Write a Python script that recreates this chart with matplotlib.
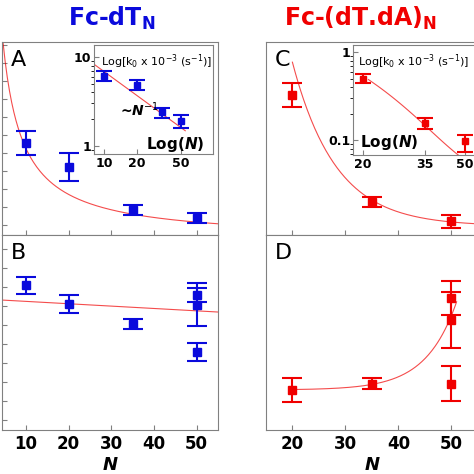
import numpy as np
import matplotlib
matplotlib.use("Agg")
import matplotlib.pyplot as plt

BLUE = "#0a0adc"
RED = "#f00000"

# panel A (arbitrary units)
a_n = [10, 20, 35, 50]
a_k = [9.2, 6.8, 2.5, 1.7]
a_err = [1.2, 1.4, 0.5, 0.5]
# inset A
ai_n = [10, 20, 34, 50]
ai_k = [6.1, 4.8, 2.4, 1.9]
ai_lo = [0.7, 0.6, 0.35, 0.3]
ai_hi = [0.8, 0.7, 0.3, 0.3]
# panel B
b_n = [10, 20, 35, 50, 50, 50]
b_v = [14.5, 12.6, 10.6, 13.5, 12.5, 7.8]
b_lo = [0.85, 0.9, 0.5, 0.7, 2.1, 0.95]
b_hi = [0.85, 0.9, 0.5, 0.7, 2.2, 0.95]
# panel C
c_n = [20, 35, 50]
c_k = [14.0, 3.3, 1.4]
c_err = [1.2, 0.5, 0.65]
# inset C
ci_n = [20, 35, 50]
ci_k = [0.49, 0.156, 0.097]
ci_lo = [0.05, 0.021, 0.024]
ci_hi = [0.07, 0.024, 0.018]
# panel D
d_n = [20, 35, 50, 50, 50]
d_v = [4.0, 4.6, 13.2, 11.0, 4.6]
d_lo = [1.2, 0.55, 1.7, 2.8, 1.75]
d_hi = [1.2, 0.55, 1.7, 2.8, 1.75]

GRAY = "#808080"


def style(ax, xticks=True):
    for s in ax.spines.values():
        s.set_color(GRAY)
    ax.tick_params(direction="in", color=GRAY, labelsize=12)
    ax.set_yticklabels([])
    if not xticks:
        ax.set_xticklabels([])
    else:
        for t in ax.get_xticklabels():
            t.set_fontweight("bold")


def ebar(ax, x, y, yerr, c, ms=6, cs=7):
    ax.errorbar(x, y, yerr=yerr, fmt="s", color=c, ms=ms, capsize=cs,
                elinewidth=1.5, capthick=1.5)


fig = plt.figure(figsize=(4.74, 4.74), dpi=100)

axA = fig.add_axes([0.004, 0.504, 0.456, 0.407])
axB = fig.add_axes([0.004, 0.093, 0.456, 0.411])
axC = fig.add_axes([0.561, 0.504, 0.447, 0.407])
axD = fig.add_axes([0.561, 0.093, 0.447, 0.411])

nn = np.linspace(4.4, 55, 200)
axA.plot(nn, 92.5 / nn - 0.55, color=RED, lw=0.8, alpha=0.7)
ebar(axA, a_n, a_k, a_err, BLUE)
axA.set_xlim(4.4, 55)
axA.set_ylim(0, 19.3)
axA.set_xticks([10, 20, 30, 40, 50])
axA.set_yticks(np.arange(1, 19.3, 1.8))
style(axA, False)

axB.plot([4.4, 55], [13.0, 11.8], color=RED, lw=0.8, alpha=0.7)
ebar(axB, b_n, b_v, [b_lo, b_hi], BLUE)
axB.set_xlim(4.4, 55)
axB.set_ylim(0, 19.5)
axB.set_xticks([10, 20, 30, 40, 50])
axB.set_yticks(np.arange(1, 19.5, 1.9))
style(axB)
axB.set_xlabel("N", fontsize=13, fontweight="bold", style="italic", labelpad=2)

nc = np.linspace(20, 55, 200)
axC.plot(nc, 0.9 + 16.4 * np.exp(-0.1225 * (nc - 20)), color=RED, lw=0.8, alpha=0.7)
ebar(axC, c_n, c_k, c_err, RED)
axC.set_xlim(15, 55)
axC.set_ylim(0, 19.3)
axC.set_xticks([20, 30, 40, 50])
axC.set_yticks([])
style(axC, False)

nd = np.linspace(20, 51, 200)
axD.plot(nd, 4.0 + 0.0013 * np.exp(0.173 * nd), color=RED, lw=0.8, alpha=0.7)
ebar(axD, d_n, d_v, [d_lo, d_hi], RED)
axD.set_xlim(15, 55)
axD.set_ylim(0, 19.5)
axD.set_xticks([20, 30, 40, 50])
axD.set_yticks([])
style(axD)
axD.set_xlabel("N", fontsize=13, fontweight="bold", style="italic", labelpad=2)

for ax, lab in [(axA, "A"), (axB, "B"), (axC, "C"), (axD, "D")]:
    ax.text(0.04, 0.96, lab, transform=ax.transAxes, fontsize=16, va="top")

# insets
iA = fig.add_axes([0.198, 0.675, 0.251, 0.23])
ni = np.linspace(8.1, 55, 50)
iA.plot(ni, 8.3 * (ni / 8.1) ** -0.9, color=RED, lw=0.8, alpha=0.7)
ebar(iA, ai_n, ai_k, [ai_lo, ai_hi], BLUE, ms=5, cs=6)
iA.set_xscale("log")
iA.set_yscale("log")
iA.set_xlim(8.1, 98)
iA.set_ylim(0.81, 13.6)
iA.set_xticks([10, 20, 50])
iA.set_xticklabels(["10", "20", "50"])
iA.set_xticks([], minor=True)
iA.set_yticks([1, 10])
iA.set_yticklabels(["1", "10"])
for s in iA.spines.values():
    s.set_color(GRAY)
iA.tick_params(direction="in", color=GRAY, labelsize=9, pad=2)
for t in iA.get_xticklabels() + iA.get_yticklabels():
    t.set_fontweight("bold")
iA.text(0.06, 0.93, "Log[k$_0$ x 10$^{-3}$ (s$^{-1}$)]", transform=iA.transAxes,
        va="top", fontsize=8)
iA.text(0.22, 0.35, "~$\\boldsymbol{N}^{-1}$", transform=iA.transAxes, fontsize=10,
        fontweight="bold")
iA.text(0.93, 0.05, "Log($\\boldsymbol{N}$)", transform=iA.transAxes, ha="right",
        fontsize=11, fontweight="bold")

iC = fig.add_axes([0.745, 0.673, 0.278, 0.232])
nci = np.linspace(21, 55, 50)
iC.plot(nci, 0.035 + 0.5 * np.exp(-(nci - 20) / 10), color=RED, lw=0.8, alpha=0.7)
ebar(iC, ci_n, ci_k, [ci_lo, ci_hi], RED, ms=5, cs=6)
iC.set_xscale("log")
iC.set_yscale("log")
iC.set_xlim(18.3, 60)
iC.set_ylim(0.068, 1.2)
iC.set_xticks([20, 35, 50])
iC.set_xticklabels(["20", "35", "50"])
iC.set_xticks([], minor=True)
iC.set_yticks([0.1, 1])
iC.set_yticklabels(["0.1", "1"])
for s in iC.spines.values():
    s.set_color(GRAY)
iC.tick_params(direction="in", color=GRAY, labelsize=9, pad=2)
for t in iC.get_xticklabels() + iC.get_yticklabels():
    t.set_fontweight("bold")
iC.text(0.04, 0.93, "Log[k$_0$ x 10$^{-3}$ (s$^{-1}$)]", transform=iC.transAxes,
        va="top", fontsize=8)
iC.text(0.05, 0.07, "Log($\\boldsymbol{N}$)", transform=iC.transAxes,
        fontsize=11, fontweight="bold")

fig.text(0.235, 0.962, "Fc-dT$_\\mathbf{N}$", color=BLUE, fontsize=17,
         fontweight="bold", ha="center", va="center")
fig.text(0.76, 0.962, "Fc-(dT.dA)$_\\mathbf{N}$", color=RED, fontsize=17,
         fontweight="bold", ha="center", va="center")

fig.savefig("out.png", dpi=100)
